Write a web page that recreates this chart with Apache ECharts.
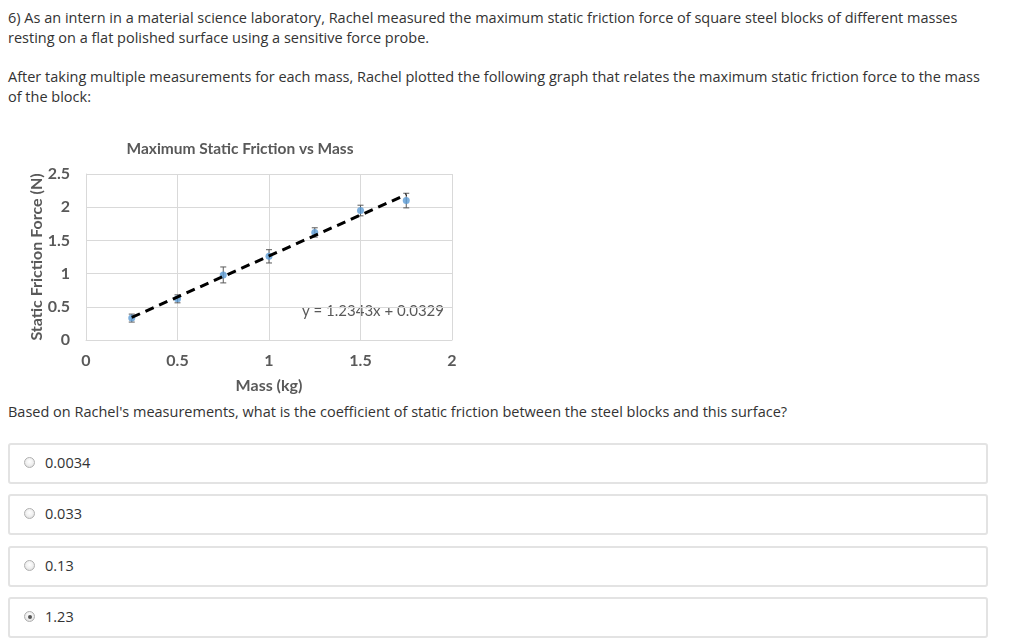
<!DOCTYPE html>
<html>
<head>
<meta charset="utf-8">
<script src="https://cdn.jsdelivr.net/npm/echarts@6/dist/echarts.min.js"></script>
<style>
  html, body { margin:0; padding:0; background:#fff; width:1024px; height:640px; overflow:hidden; }
  body { font-family: "Open Sans", sans-serif; font-size:14.5px; color:#333; position:relative; }
  .t { position:absolute; left:8px; white-space:nowrap; line-height:20px; }
  #chart { position:absolute; left:0; top:130px; width:480px; height:270px; }
  .opt { position:absolute; left:8px; width:976px; height:37px; border:2px solid #e3e3e3; border-radius:3px; box-sizing:content-box; }
  .opt .r { position:absolute; left:14px; top:12px; width:11px; height:11px; border-radius:50%; border:1px solid #b0b0b0; background:radial-gradient(circle at 50% 40%, #fff 0%, #f0f0f0 50%, #d5d5d5 100%); box-sizing:border-box; }
  .opt .r.sel::after { content:""; position:absolute; left:2.5px; top:2.5px; width:4px; height:4px; border-radius:50%; background:#555; }
  .opt .l { position:absolute; left:35px; top:8px; line-height:20px; }
</style>
</head>
<body>
<div class="t" style="top:8px">6) As an intern in a material science laboratory, Rachel measured the maximum static friction force of square steel blocks of different masses</div>
<div class="t" style="top:28px">resting on a flat polished surface using a sensitive force probe.</div>
<div class="t" style="top:67px">After taking multiple measurements for each mass, Rachel plotted the following graph that relates the maximum static friction force to the mass</div>
<div class="t" style="top:87px">of the block:</div>
<div id="chart"></div>
<div class="t" style="top:402px">Based on Rachel's measurements, what is the coefficient of static friction between the steel blocks and this surface?</div>

<div class="opt" style="top:443px"><div class="r"></div><div class="l">0.0034</div></div>
<div class="opt" style="top:494px"><div class="r"></div><div class="l">0.033</div></div>
<div class="opt" style="top:546px"><div class="r"></div><div class="l">0.13</div></div>
<div class="opt" style="top:597px"><div class="r sel"></div><div class="l">1.23</div></div>

<script>
// ---- data ----
const masses = [0.25, 0.5, 0.75, 1.0, 1.25, 1.5, 1.75];
const forces = [0.33, 0.62, 0.98, 1.26, 1.62, 1.95, 2.10];
const errors = [0.06, 0.06, 0.12, 0.10, 0.07, 0.08, 0.11];
const trendX = [0.25, 1.75];
const trendY = [0.34, 2.19];
const equationText = 'y = 1.2343x + 0.0329';
const chartTitle = 'Maximum Static Friction vs Mass';
const xName = 'Mass (kg)';
const yName = 'Static Friction Force (N)';

const gray = '#595959';
const gridGray = '#d9d9d9';
const font = 'Lato, "Open Sans", sans-serif';

const chart = echarts.init(document.getElementById('chart'));
const pointData = masses.map((m, i) => [m, forces[i]]);
const errData = masses.map((m, i) => [m, forces[i] - errors[i], forces[i] + errors[i]]);
const trendData = trendX.map((x, i) => [x, trendY[i]]);

chart.setOption({
  animation: false,
  title: {
    text: chartTitle, left: 'center', top: 6,
    textStyle: { fontFamily: font, fontSize: 15.5, fontWeight: 'bold', color: gray }
  },
  grid: { left: 86, top: 44, right: 28, bottom: 60, containLabel: false },
  xAxis: {
    type: 'value', min: 0, max: 2, interval: 0.5,
    name: xName, nameLocation: 'middle', nameGap: 38,
    nameTextStyle: { fontFamily: font, fontSize: 16, fontWeight: 'bold', color: gray },
    axisLine: { show: true, lineStyle: { color: gridGray } },
    axisTick: { show: false },
    axisLabel: { margin: 13, fontFamily: font, fontSize: 16, fontWeight: 'bold', color: gray },
    splitLine: { show: true, lineStyle: { color: gridGray } }
  },
  yAxis: {
    type: 'value', min: 0, max: 2.5, interval: 0.5,
    name: yName, nameLocation: 'middle', nameGap: 41, nameRotate: 90, nameMoveOverlap: false,
    nameTextStyle: { fontFamily: font, fontSize: 16, fontWeight: 'bold', color: gray },
    axisLine: { show: true, lineStyle: { color: gridGray } },
    axisTick: { show: false },
    axisLabel: { margin: 16, fontFamily: font, fontSize: 16, fontWeight: 'bold', color: gray },
    splitLine: { show: true, lineStyle: { color: gridGray } }
  },
  graphic: [{
    type: 'text', right: 36, top: 174,
    style: { text: equationText, fontFamily: font, fontSize: 15, fill: gray }
  }],
  series: [
    {
      type: 'custom', name: 'err', z: 2,
      renderItem: function (params, api) {
        const x = api.value(0);
        const lo = api.coord([x, api.value(1)]);
        const hi = api.coord([x, api.value(2)]);
        const cap = 3;
        const st = { stroke: '#5a5a5a', lineWidth: 1, fill: null };
        return {
          type: 'group',
          children: [
            { type: 'line', shape: { x1: lo[0], y1: lo[1], x2: hi[0], y2: hi[1] }, style: st },
            { type: 'line', shape: { x1: lo[0] - cap, y1: lo[1], x2: lo[0] + cap, y2: lo[1] }, style: st },
            { type: 'line', shape: { x1: hi[0] - cap, y1: hi[1], x2: hi[0] + cap, y2: hi[1] }, style: st }
          ]
        };
      },
      encode: { x: 0, y: [1, 2] },
      data: errData
    },
    {
      type: 'scatter', name: 'points', z: 3,
      symbol: 'circle', symbolSize: 7,
      itemStyle: { color: '#5b9bd5' },
      data: pointData
    },
    {
      type: 'line', name: 'trend', z: 4,
      symbol: 'none',
      lineStyle: { color: '#000', width: 3, type: [9, 6] },
      data: trendData
    }
  ]
});
</script>
</body>
</html>
